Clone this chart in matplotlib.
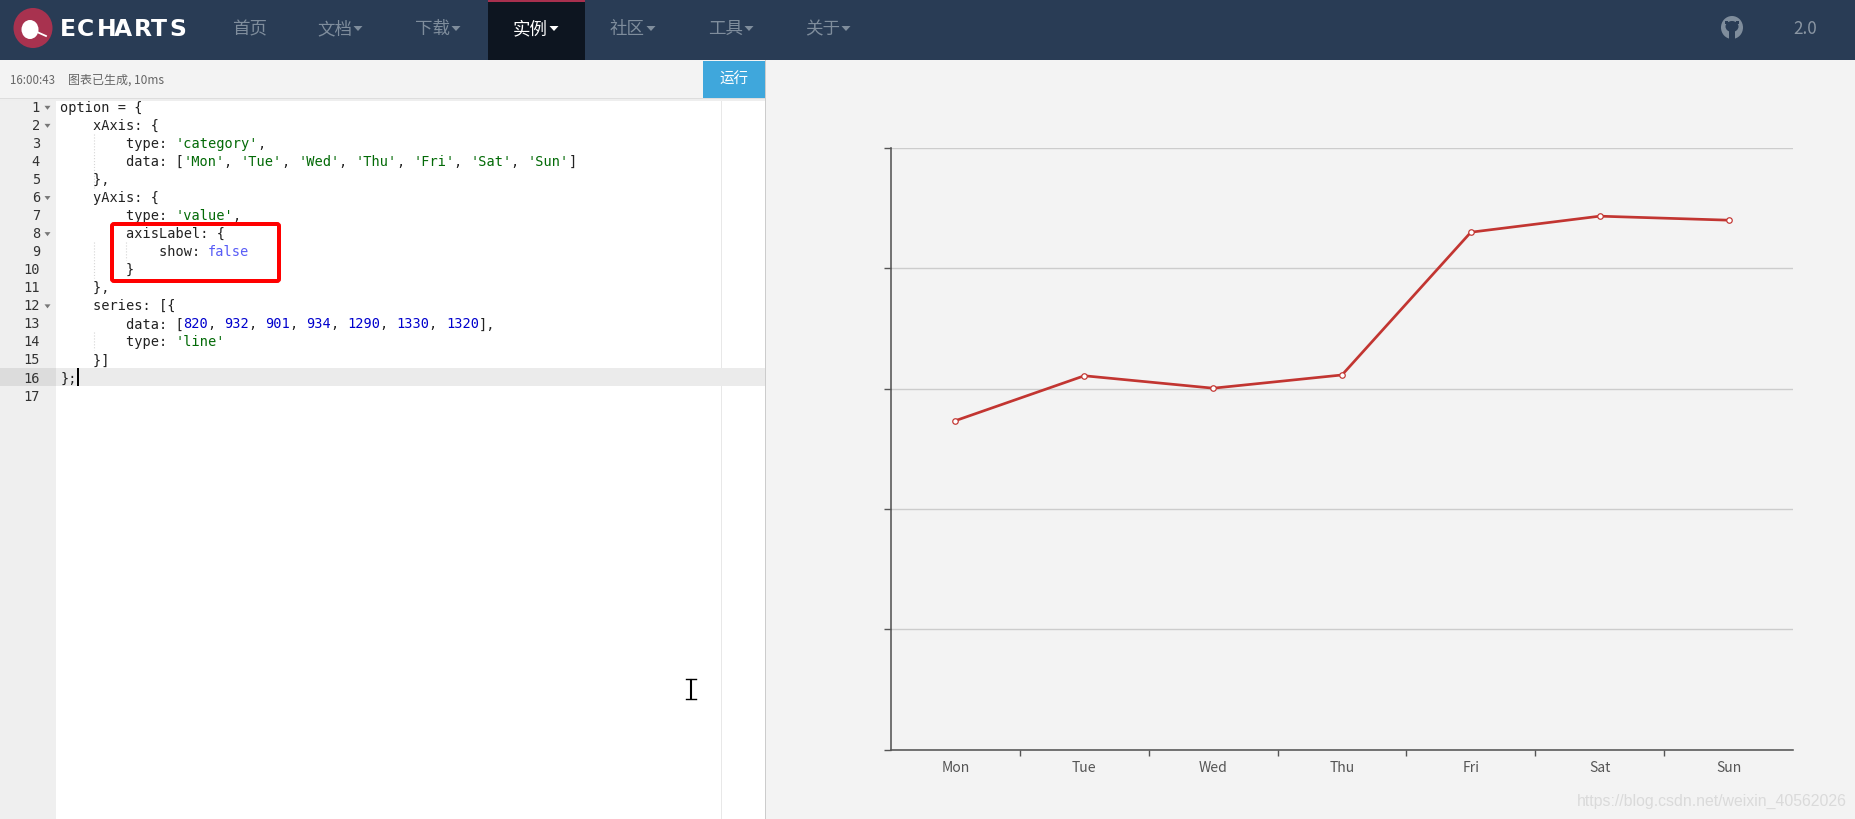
import matplotlib
matplotlib.use('Agg')
import matplotlib.pyplot as plt
from matplotlib.patches import Rectangle, Ellipse, Polygon, FancyBboxPatch

plt.rcParams['font.family'] = ['Noto Sans CJK SC', 'DejaVu Sans']

# chart values
days = ['Mon', 'Tue', 'Wed', 'Thu', 'Fri', 'Sat', 'Sun']
values = [820, 932, 901, 934, 1290, 1330, 1320]
y_ticks = [0, 300, 600, 900, 1200, 1500]

# nav bar: label, left edge, has caret
nav_labels = ['首页', '文档', '下载', '实例', '社区', '工具', '关于']
nav_left = [232, 317, 415, 513, 610, 708, 805]
logo_letters = ['E', 'C', 'H', 'A', 'R', 'T', 'S']
logo_left = [60, 77, 97, 114, 134, 151, 169]

# code pane, one list of (text, kind) per line
code_lines = [
    [('option = {', 'k')],
    [('    xAxis: {', 'k')],
    [('        type: ', 'k'), ("'category'", 's'), (',', 'k')],
    [('        data: [', 'k'), ("'Mon'", 's'), (', ', 'k'), ("'Tue'", 's'), (', ', 'k'), ("'Wed'", 's'), (', ', 'k'),
     ("'Thu'", 's'), (', ', 'k'), ("'Fri'", 's'), (', ', 'k'), ("'Sat'", 's'), (', ', 'k'), ("'Sun'", 's'), (']', 'k')],
    [('    },', 'k')],
    [('    yAxis: {', 'k')],
    [('        type: ', 'k'), ("'value'", 's'), (',', 'k')],
    [('        axisLabel: {', 'k')],
    [('            show: ', 'k'), ('false', 'b')],
    [('        }', 'k')],
    [('    },', 'k')],
    [('    series: [{', 'k')],
    [('        data: [', 'k'), ('820', 'n'), (', ', 'k'), ('932', 'n'), (', ', 'k'), ('901', 'n'), (', ', 'k'),
     ('934', 'n'), (', ', 'k'), ('1290', 'n'), (', ', 'k'), ('1330', 'n'), (', ', 'k'), ('1320', 'n'), ('],', 'k')],
    [('        type: ', 'k'), ("'line'", 's')],
    [('    }]', 'k')],
    [('};', 'k')],
    [],
]
fold_lines = [1, 2, 6, 8, 12]
code_colors = {'k': '#222222', 's': '#036a07', 'n': '#0000cd', 'b': '#585cf6'}

W, H = 1856, 819
px = 0.72  # pixels to points at dpi 100

fig = plt.figure(figsize=(W / 100, H / 100), dpi=100, facecolor='white')

# whole page in pixel coordinates
ui = fig.add_axes([0, 0, 1, 1])
ui.set_xlim(0, W)
ui.set_ylim(H, 0)
ui.axis('off')


def box(x0, y0, x1, y1, color, z=1):
    ui.add_patch(Rectangle((x0, y0), x1 - x0, y1 - y0, facecolor=color, edgecolor='none', zorder=z))


# right panel and editor
box(766, 60, W, H, '#f3f3f3')
box(765, 60, 766.5, H, '#cccccc')
box(721, 98, 722, H, '#e8e8e8')
box(0, 98, 56, H, '#efefef')

# top bar
box(0, 0, W, 60, '#293c55', 3)
box(488, 0, 585, 60, '#0d1520', 4)
box(488, 0, 585, 2, '#a8304e', 5)
ui.add_patch(Ellipse((33, 28), 39, 40, facecolor='#a8324f', edgecolor='none', zorder=5))
ui.add_patch(Ellipse((30, 29.5), 17, 19, facecolor='white', edgecolor='none', zorder=6))
ui.plot([37, 46], [32, 36], color='white', lw=1.3, zorder=7)
for ch, lx in zip(logo_letters, logo_left):
    ui.text(lx, 29.5, ch, color='white', fontsize=23.5 * px, fontweight='bold', family='DejaVu Sans',
            va='center', ha='left', zorder=6)
for i in range(len(nav_labels)):
    active = nav_labels[i] == '实例'
    col = 'white' if active else '#7f8d9c'
    ui.text(nav_left[i], 29, nav_labels[i], color=col, fontsize=17.5 * px, va='center', ha='left', zorder=6)
    if i > 0:
        cx = nav_left[i] + 41
        ui.add_patch(Polygon([[cx - 4.5, 26], [cx + 4.5, 26], [cx, 31]], facecolor=col, edgecolor='none', zorder=6))
# github mark
ui.add_patch(Ellipse((1732, 27.5), 22, 23, facecolor='#7f8d9c', edgecolor='none', zorder=5))
ui.add_patch(Ellipse((1732, 26.5), 13, 11, facecolor='#293c55', edgecolor='none', zorder=6))
box(1729, 30, 1735, 40, '#293c55', 6)
box(1725, 21, 1728, 24, '#293c55', 6)
box(1736, 21, 1739, 24, '#293c55', 6)
ui.text(1805, 29, '2.0', color='#8a96a3', fontsize=17 * px, va='center', ha='center', zorder=6)

# toolbar
box(0, 60, 765, 98, '#f3f3f3', 3)
box(0, 98, 765, 99, '#dddddd', 3)
box(0, 99, 765, 101, '#eeeeee', 3)
box(703, 61, 765, 98, '#3fa7dc', 4)
ui.text(10, 80, '16:00:43', color='#666666', fontsize=11.5 * px, va='center', ha='left', zorder=5)
ui.text(68, 80, '图表已生成, 10ms', color='#666666', fontsize=12 * px, va='center', ha='left', zorder=5)
ui.text(733.5, 80, '运行', color='white', fontsize=14.5 * px, va='center', ha='center', zorder=5)

# code
line_h = 18.05
char_w = 8.2
code_x = 60.5
code_top = 107.8
box(56, 368, 765, 386, '#ebebeb', 2)
box(0, 368, 56, 386, '#dcdcdc', 2)
for n, tokens in enumerate(code_lines, start=1):
    y = code_top + (n - 1) * line_h
    ui.text(40, y, str(n), color='#333333', fontsize=13.6 * px, family='DejaVu Sans Mono',
            va='center', ha='right', zorder=4)
    if n in fold_lines:
        ui.add_patch(Polygon([[44.5, y - 2], [50.5, y - 2], [47.5, y + 2]], facecolor='#777777',
                             edgecolor='none', zorder=4))
    col = 0
    for text, kind in tokens:
        ui.text(code_x + col * char_w, y, text, color=code_colors[kind], fontsize=13.6 * px,
                family='DejaVu Sans Mono', va='center', ha='left', zorder=4)
        col += len(text)
# indent guides
for x, y0, y1 in [(94, 134, 188), (94, 242, 278), (126.5, 242, 260), (94, 332, 350)]:
    ui.plot([x, x], [y0, y1], color='#d5d5d5', lw=0.8, ls=':', zorder=3)
# caret and mouse cursor
box(77, 368, 79.5, 386, 'black', 5)
ui.plot([691.5, 691.5], [680, 698], color='black', lw=1.5, zorder=6)
ui.plot([686.5, 696.5], [679, 679], color='black', lw=1, zorder=6)
ui.plot([686.5, 696.5], [699, 699], color='black', lw=1, zorder=6)
# red highlight box
ui.add_patch(FancyBboxPatch((112, 224), 167, 57, boxstyle='round,pad=0,rounding_size=2', facecolor='none',
                            edgecolor='#ff0000', linewidth=4 * px, zorder=6))

# watermark
ui.text(1847, 801, 'https://blog.csdn.net/weixin_40562026', color='#dadada', fontsize=15.9 * px,
        family='Liberation Sans', va='center', ha='right', zorder=6)

# the chart itself
ax = fig.add_axes([891 / W, 1 - 749.5 / H, (1793 - 891) / W, (749.5 - 148) / H], zorder=10)
ax.patch.set_visible(False)
ax.set_xlim(-0.5, len(days) - 0.5)
ax.set_ylim(y_ticks[0], y_ticks[-1])
for s in ['top', 'right']:
    ax.spines[s].set_visible(False)
for s in ['left', 'bottom']:
    ax.spines[s].set_color('#555555')
    ax.spines[s].set_linewidth(1.6 * px)
ax.set_yticks(y_ticks)
ax.set_yticklabels([])
ax.tick_params(axis='y', length=7 * px, width=1.4 * px, color='#555555', direction='out')
ax.grid(axis='y', color='#cccccc', lw=1.4 * px)
ax.set_axisbelow(True)
# no tick at the two ends of the category axis
ax.set_xticks([i + 0.5 for i in range(len(days) - 1)])
ax.set_xticklabels([])
ax.tick_params(axis='x', length=6 * px, width=1.4 * px, color='#555555', direction='out')
for i, d in enumerate(days):
    ax.annotate(d, (i, 0), xytext=(0, -18 * px), textcoords='offset points', ha='center', va='center',
                color='#555555', fontsize=14 * px, annotation_clip=False)
ax.plot(range(len(days)), values, color='#c23531', lw=2.7 * px, marker='o', ms=5.5 * px,
        mfc='white', mec='#c23531', mew=1.2 * px, clip_on=False, zorder=5)

fig.savefig('out.png', dpi=100)
